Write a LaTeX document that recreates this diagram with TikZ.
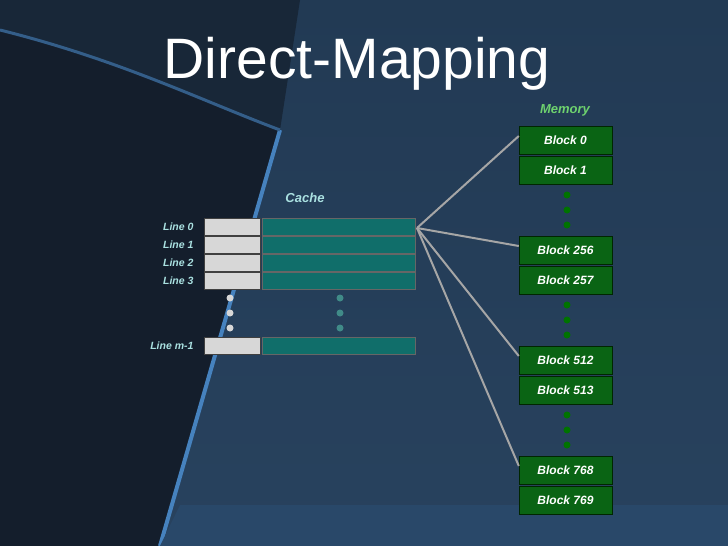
\documentclass[tikz,border=0pt]{standalone}
\usepackage{fontspec}
\setmainfont{Liberation Sans}
\definecolor{bgR}{RGB}{34,58,84}
\definecolor{bgRb}{RGB}{40,66,94}
\definecolor{bgL}{RGB}{20,30,44}
\definecolor{band}{RGB}{70,130,190}
\definecolor{tealc}{RGB}{16,110,106}
\definecolor{greyc}{RGB}{215,215,215}
\definecolor{blkc}{RGB}{10,100,20}
\definecolor{lblc}{RGB}{170,225,225}
\definecolor{memc}{RGB}{110,210,110}
\begin{document}
\begin{tikzpicture}[x=1pt,y=-1pt,
  lbl/.style={font=\bfseries\itshape\fontsize{10.5}{12}\selectfont,text=lblc},
  tagbox/.style={draw=gray!50!black,fill=greyc,minimum width=56pt,minimum height=17pt,inner sep=0pt},
  databox/.style={draw=black!60,fill=tealc,minimum width=153pt,minimum height=17pt,inner sep=0pt},
  blk/.style={draw=green!15!black,fill=blkc,minimum width=93pt,minimum height=28pt,inner sep=0pt,font=\bfseries\itshape\fontsize{12}{14}\selectfont,text=white},
  dotc/.style={circle,fill=greyc,inner sep=0pt,minimum size=7pt},
  dotm/.style={circle,fill=green!45!black,inner sep=0pt,minimum size=7pt},
  dott/.style={circle,fill=tealc!80!white,inner sep=0pt,minimum size=7pt},
  conn/.style={draw=gray!70!white,line width=2pt}]
\useasboundingbox (0,0) rectangle (728,546);
\shade[top color=bgR,bottom color=bgRb] (0,0) rectangle (728,546);
\fill[bgL] (0,30) .. controls (120,60) and (200,100) .. (280,130) -- (160,546) -- (0,546) -- cycle;
\fill[bgL!70!bgR] (0,0) -- (300,0) -- (280,130) .. controls (200,100) and (120,60) .. (0,30) -- cycle;
\draw[band,line width=4pt] (280,130) -- (160,546);
\draw[band!50!bgR,line width=3pt] (0,30) .. controls (120,60) and (200,100) .. (280,130);
\fill[bgR!80!band] (160,546) -- (180,505) -- (728,505) -- (728,546) -- cycle;

\node[text=white,font=\fontsize{57}{60}\selectfont] (title) at (357,64) {Direct-Mapping};

\node[lbl,font=\bfseries\itshape\fontsize{13}{14}\selectfont] (cachelbl) at (305,198) {Cache};
\foreach \i/\y/\t in {0/227/Line 0,1/245/Line 1,2/263/Line 2,3/281/Line 3,m/346/Line m-1}{
  \node[tagbox] (t\i) at (232,\y) {};
  \node[databox] (d\i) at (338.5,\y) {};
  \node[lbl,anchor=east] (l\i) at (197,\y) {\t};
}
\foreach \y [count=\k] in {298,313,328}{
  \node[dotc] (cd\k) at (230,\y) {};
  \node[dott] (td\k) at (340,\y) {};
}

\node[lbl,text=memc,font=\bfseries\itshape\fontsize{13}{14}\selectfont] (memlbl) at (565,110) {Memory};
\foreach \n/\y in {0/140,1/170,256/250,257/280,512/360,513/390,768/470,769/500}{
  \node[blk] (b\n) at (565.5,\y) {Block \n};
}
\foreach \y [count=\k] in {195,210,225,305,320,335,415,430,445}{
  \node[dotm] (md\k) at (567,\y) {};
}
\coordinate (src) at (417,228);
\foreach \n in {0,256,512,768}{
  \draw[conn] (src) -- ([yshift=4pt]b\n.west);
}
\end{tikzpicture}
\end{document}
